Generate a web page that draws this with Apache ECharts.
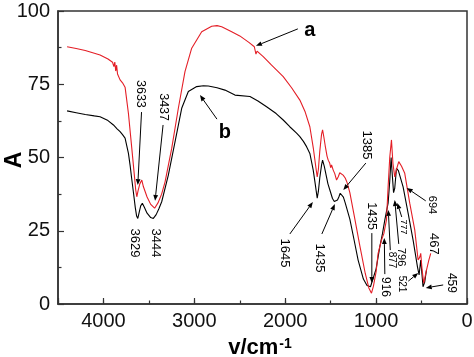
<!DOCTYPE html>
<html>
<head>
<meta charset="utf-8">
<script src="https://cdn.jsdelivr.net/npm/echarts@6/dist/echarts.min.js"></script>
<style>
html,body{margin:0;padding:0;background:#fff;}
#c{width:474px;height:357px;}
</style>
</head>
<body>
<div id="c"></div>
<script>
// ---- data ----
const xTicks = [0, 1000, 2000, 3000, 4000];
const yTicks = [0, 25, 50, 75, 100];

const waveA = [4400,4300,4200,4100,4037,3950,3900,3885,3875,3865,3855,3845,3817,3790,3762,3725,3688,3660,3645,3633,3620,3600,3578,3560,3520,3480,3437,3400,3360,3322,3249,3176,3103,3029,2919,2809,2750,2699,2589,2500,2400,2340,2330,2322,2310,2290,2242,2150,2022,1930,1839,1780,1729,1690,1660,1648,1635,1620,1600,1589,1575,1560,1540,1527,1510,1500,1490,1472,1455,1435,1415,1400,1380,1363,1340,1320,1289,1240,1180,1120,1080,1051,1030,1000,978,941,915,886,868,850,831,815,795,775,751,720,685,630,575,538,520,509,495,476,450,420,399];
const absA = [87.8,87.2,86.5,85.6,85,83.6,82.5,81,82.6,79.5,81.5,78.5,76.5,75.5,74,65,53.1,44,39,36.6,38.5,41,42.3,40,36.5,34,32.7,34.5,37.5,41.7,53.1,66.8,79.3,87.3,92.9,94.8,95,94.6,92.9,91.5,89.3,87.8,87.3,85.3,86.3,85.8,84.4,81.5,77.6,73.8,69.6,65.5,60.5,53,46,43.4,46,52,58,59.4,57,54,50.5,49.1,48,46.5,47.5,45.7,44.5,42.3,43.5,44.8,45,44,43,41.5,38,30,20,10.5,5.5,3.7,6,11,17.3,21.8,24,28.7,40,50,56,48,43.4,46,48.6,47,44.6,34.4,25.3,15,16,17.3,12,7.1,11,15,17.3];

const waveB = [4400,4300,4200,4100,4037,3950,3890,3850,3817,3790,3762,3725,3707,3690,3671,3650,3635,3622,3605,3590,3572,3550,3520,3480,3451,3420,3390,3359,3286,3212,3139,3066,2974,2900,2846,2750,2663,2553,2388,2300,2205,2100,2022,1950,1875,1839,1800,1765,1729,1692,1670,1648,1635,1620,1600,1589,1570,1550,1530,1509,1480,1460,1443,1425,1410,1395,1380,1360,1340,1289,1240,1198,1140,1100,1062,1040,1000,959,930,904,868,850,835,822,808,795,776,755,703,648,593,545,527,509,495,484,465,446];
const absB = [65.9,65.3,64.7,64.2,63.9,62.6,61.1,59.8,58.8,57.8,56.6,51.4,47.4,43,38.3,33,30,29.2,31.5,33.5,34.4,33,31,29.5,29.2,30.5,32.5,34.9,44,55.4,66.8,72.5,74.2,74.5,74.4,73.8,73,71.3,70.8,69.3,67.3,65,62.8,60.5,58.3,57.1,55.5,53.7,51.4,45.7,41,36.1,38.5,43,47.5,49.1,47,44,41,38.9,36,35,34.4,35.5,36.5,37.8,38.3,36.5,34.5,29,21.5,15,8.5,6.3,5.9,6.3,12,19.6,24,28.7,34.4,42,50,44,38,39.5,46.3,45.5,40,31,21.8,12.7,9.9,15,10,5.9,7.5,11.6];

// peak annotations: label, label anchor [x,y], arrow from, arrow to (data coords)
const peakLabels = ['3633','3437','3629','3444','1645','1435','1385','1435','916','877','796','777','694','467','459','521'];
const labelAt = [[3592,71.7],[3344,67.2],[3652,20.8],[3421,20.8],[2008,17.4],[1619,15.7],[1102,54.3],[1047,30],[904,5.8],[828,15],[729,16],[696,26.3],[386,33.8],[371,20.5],[168,7.2],[723,6.8]];
const arrowFrom = [[3581,65.5],[3344,61.1],null,null,[1949,23.9],[1597,23.9],[1113,48.1],[1047,24.2],[904,10.2],[844,18.4],[751,20.5],[718,29.7],[454,35.2],null,[262,6.5],[646,7.8]];
const arrowTo = [[3622,40.6],[3432,35.2],null,null,[1696,34.8],[1454,34.1],[1361,38.9],[1047,7.2],[910,22.5],[866,32.1],[795,35.5],[767,34.5],[663,39.6],null,[454,5.5],[536,10.6]];
const labelSize = [12.5,12.5,13,13,13,13,13,12.5,12,10,11,9,11,13,12,10];

const seriesNames = ['a','b'];
const seriesTagAt = [[1729,93.5],[2663,58.4]];
const seriesTagFrom = [[1861,93.9],[2751,63.1]];
const seriesTagTo = [[2322,88.1],[2938,71.3]];

const FONT = '"Liberation Sans", Arial, Helvetica, sans-serif';
const AX = '#333';

const chart = echarts.init(document.getElementById('c'), null, {renderer: 'canvas'});

function pairs(xs, ys) { return xs.map((x, i) => [x, ys[i]]); }

const gridRect = {left: 58, right: 7, top: 11, bottom: 53, containLabel: false, outerBoundsMode: 'none'};

chart.setOption({
  animation: false,
  backgroundColor: '#fff',
  grid: [
    Object.assign({show: true, borderColor: AX, borderWidth: 1.5, backgroundColor: 'transparent'}, gridRect),
    Object.assign({show: false}, gridRect)
  ],
  xAxis: [{
    gridIndex: 0, type: 'value', min: 0, max: 4500, interval: 1000, inverse: true,
    axisLine: {show: true, onZero: false, lineStyle: {color: AX, width: 1.5}},
    axisTick: {show: true, inside: true, length: 6, lineStyle: {color: AX, width: 1.2}},
    splitLine: {show: false},
    axisLabel: {fontSize: 20, color: '#111', fontFamily: FONT, margin: 7,
      formatter: v => (xTicks.indexOf(v) >= 0 ? String(v) : '')}
  }, {
    gridIndex: 1, type: 'value', min: 0, max: 4500, interval: 500, inverse: true,
    axisLine: {show: false, onZero: false},
    axisTick: {show: true, inside: true, length: 3.5, lineStyle: {color: AX, width: 1.2}},
    splitLine: {show: false},
    axisLabel: {show: false}
  }],
  yAxis: [{
    gridIndex: 0, type: 'value', min: 0, max: 100, interval: 25,
    axisLine: {show: true, onZero: false, lineStyle: {color: AX, width: 1.5}},
    axisTick: {show: true, inside: true, length: 6, lineStyle: {color: AX, width: 1.2}},
    minorTick: {show: true, splitNumber: 2, length: 3.5, lineStyle: {color: AX, width: 1.2}},
    splitLine: {show: false},
    axisLabel: {fontSize: 20, color: '#111', fontFamily: FONT, margin: 8,
      formatter: v => (yTicks.indexOf(v) >= 0 ? String(v) : '')}
  }, {
    gridIndex: 1, type: 'value', min: 0, max: 100, show: false
  }],
  series: [
    {name: seriesNames[1], type: 'line', xAxisIndex: 0, yAxisIndex: 0, data: pairs(waveB, absB), showSymbol: false, symbol: 'none',
     lineStyle: {color: '#000', width: 1.1}, z: 2},
    {name: seriesNames[0], type: 'line', xAxisIndex: 0, yAxisIndex: 0, data: pairs(waveA, absA), showSymbol: false, symbol: 'none',
     lineStyle: {color: '#e41e26', width: 1.1}, z: 3}
  ]
});

function toPx(p) { return chart.convertToPixel({xAxisIndex: 0, yAxisIndex: 0}, p); }

function arrow(from, to, g) {
  const f = toPx(from), t = toPx(to);
  const dx = t[0] - f[0], dy = t[1] - f[1];
  const len = Math.sqrt(dx * dx + dy * dy) || 1;
  const ux = dx / len, uy = dy / len;
  const L = 6, W = 2.4;
  const bx = t[0] - ux * L, by = t[1] - uy * L;
  g.push({type: 'line', shape: {x1: f[0], y1: f[1], x2: bx, y2: by}, style: {stroke: '#000', lineWidth: 1}, z: 10});
  g.push({type: 'polygon', shape: {points: [[t[0], t[1]], [bx - uy * W, by + ux * W], [bx + uy * W, by - ux * W]]}, style: {fill: '#000'}, z: 10});
}

const g = [];
peakLabels.forEach((txt, i) => {
  const c = toPx(labelAt[i]);
  g.push({type: 'text', x: c[0], y: c[1], rotation: -Math.PI / 2, z: 10,
    style: {text: txt, fill: '#000', font: labelSize[i] + 'px ' + FONT, align: 'center', verticalAlign: 'middle'}});
  if (arrowFrom[i]) arrow(arrowFrom[i], arrowTo[i], g);
});
seriesNames.forEach((n, i) => {
  const c = toPx(seriesTagAt[i]);
  g.push({type: 'text', x: c[0], y: c[1], z: 10,
    style: {text: n, fill: '#000', font: 'bold 20px ' + FONT, align: 'center', verticalAlign: 'middle'}});
  arrow(seriesTagFrom[i], seriesTagTo[i], g);
});
// axis titles
g.push({type: 'text', x: 15, y: 160, rotation: Math.PI / 2, z: 10,
  style: {text: 'A', fill: '#000', font: 'bold 23px ' + FONT, align: 'center', verticalAlign: 'middle'}});
g.push({type: 'text', x: 260, y: 348, z: 10,
  style: {text: '{m|v/cm}{s|-1}', align: 'center', verticalAlign: 'middle',
    rich: {m: {font: 'bold 22px ' + FONT, fill: '#000'}, s: {font: 'bold 14px ' + FONT, fill: '#000', verticalAlign: 'top', padding: [0, 0, 8, 1]}}}});

chart.setOption({graphic: g});
</script>
</body>
</html>
